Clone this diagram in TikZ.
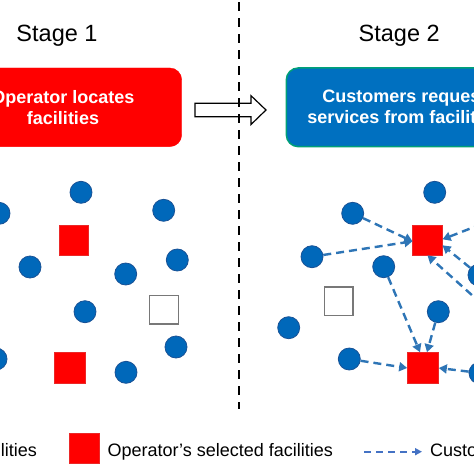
\documentclass[tikz,border=0pt]{standalone}
\usepackage{fontspec}
\setmainfont{Liberation Sans}
\usetikzlibrary{arrows.meta}
\definecolor{cblue}{RGB}{0,104,186}
\definecolor{cblueedge}{RGB}{25,82,150}
\definecolor{boxblue}{RGB}{0,112,192}
\definecolor{boxedge}{RGB}{0,160,120}
\definecolor{flow}{RGB}{46,117,182}
\definecolor{legflow}{RGB}{68,114,196}
\definecolor{hollowgray}{RGB}{120,120,120}
\definecolor{selred}{RGB}{255,0,0}
\definecolor{seledge}{RGB}{235,40,40}
\begin{document}
\begin{tikzpicture}[x=1pt,y=-1pt,
  cust/.style={circle,fill=cblue,draw=cblueedge,line width=0.8pt,minimum size=22pt,inner sep=0pt},
  facsel/.style={rectangle,fill=selred,draw=seledge,line width=0.6pt,minimum size=29.5pt,inner sep=0pt},
  fachollow/.style={rectangle,draw=hollowgray,line width=1.4pt,fill=white,minimum size=28.5pt,inner sep=0pt},
  req/.style={draw=flow,line width=2.4pt,dash pattern=on 8pt off 5pt,-{Triangle[length=8pt,width=9pt,fill=flow]}},
  legreq/.style={draw=legflow,line width=2pt,dash pattern=on 7pt off 5pt,-{Triangle[length=7pt,width=7pt,fill=legflow]}},
  stagelbl/.style={inner sep=0pt,anchor=base,font=\fontsize{23.5}{26}\selectfont},
  bigbox/.style={rounded corners=12pt,minimum height=78.7pt,inner sep=0pt,align=center,text=white,
     font=\fontsize{18}{21}\bfseries\selectfont},
  legtext/.style={inner sep=0pt,font=\fontsize{18}{21}\selectfont}
]
\useasboundingbox (0,0) rectangle (474,474);
\clip (0,0) rectangle (474,474);
\fill[white] (0,0) rectangle (474,474);

% stage titles
\node[stagelbl] (st1) at (57,41.7) {Stage 1};
\node[stagelbl] (st2) at (399.2,41.7) {Stage 2};

% top boxes
\node[bigbox,fill=selred,draw=selred,minimum width=237.4pt] (opbox) at (63,107.3)
  {Operator locates\\facilities};
\node[bigbox,fill=boxblue,draw=boxedge,line width=1.5pt,minimum width=236pt] (cubox) at (404.3,107.3)
  {Customers request\\services from facilities};

% hollow transition arrow
\draw[black,line width=1.2pt,line join=miter]
  (195,103.3) -- (251,103.3) -- (251,95.7) -- (266,110) -- (251,124.5) -- (251,116.7) -- (195,116.7) -- cycle;

% stage separator
\coordinate (vtop) at (239,2);
\coordinate (vbot) at (239,409);
\draw[black,line width=2.7pt,dash pattern=on 9pt off 7pt] (vtop) -- (vbot);

% ---------- Stage 1 ----------
\node[cust] (l1) at (81,192.3) {};
\node[cust] (l2) at (-1,213.3) {};
\node[cust] (l3) at (163.7,210.3) {};
\node[cust] (l4) at (30,267) {};
\node[cust] (l5) at (125.7,274) {};
\node[cust] (l6) at (177.3,260) {};
\node[cust] (l7) at (85,311.7) {};
\node[cust] (l8) at (176,347) {};
\node[cust] (l9) at (-4,359) {};
\node[cust] (l10) at (126,372.3) {};
\node[facsel] (lsA) at (73.7,240.3) {};
\node[facsel,minimum size=31pt] (lsB) at (69.5,368) {};
\node[fachollow] (lh) at (164,309.7) {};

% ---------- Stage 2 ----------
\node[cust] (r1) at (434.7,192.3) {};
\node[cust] (r2) at (352.7,213.3) {};
\node[cust] (r3) at (312,256.7) {};
\node[cust] (r4) at (383.7,266.7) {};
\node[cust] (r5) at (438.3,311.7) {};
\node[cust] (r6) at (288.7,327.7) {};
\node[cust] (r7) at (349.3,359) {};
\node[cust] (r8) at (479,275) {};
\node[cust] (r9) at (480,373) {};
\coordinate (rx1) at (518,210);
\coordinate (rx2) at (530,347);
\node[facsel] (sqA) at (427.5,240.3) {};
\node[facsel,minimum size=31pt] (sqB) at (423,368) {};
\node[fachollow] (rh) at (338.7,301.3) {};

\draw[req] (r2) -- ([yshift=-1pt]sqA.west);
\draw[req] (r3) -- ([yshift=-1pt]sqA.west);
\draw[req] (rx1) -- ([yshift=1pt]sqA.east);
\draw[req] (r8) -- ([yshift=-5pt]sqA.east);
\draw[req] (rx2) -- (sqA.south);
\draw[req] (r4) -- ([xshift=-3pt]sqB.north);
\draw[req] (r5) -- ([xshift=4pt]sqB.north);
\draw[req] (r7) -- (sqB.west);
\draw[req] (r9) -- (sqB.east);

% ---------- legend ----------
\node[legtext,anchor=base east] (lg1) at (37,456.7) {ilities};
\node[facsel,minimum size=30pt] (lgsq) at (84,448.3) {};
\node[legtext,anchor=base west] (lg2) at (107.3,456.7) {Operator’s selected facilities};
\coordinate (lga) at (364,451.7);
\coordinate (lgb) at (422,451.7);
\draw[legreq] (lga) -- (lgb);
\node[legtext,anchor=base west] (lg3) at (430,456.7) {Custo};
\end{tikzpicture}
\end{document}
